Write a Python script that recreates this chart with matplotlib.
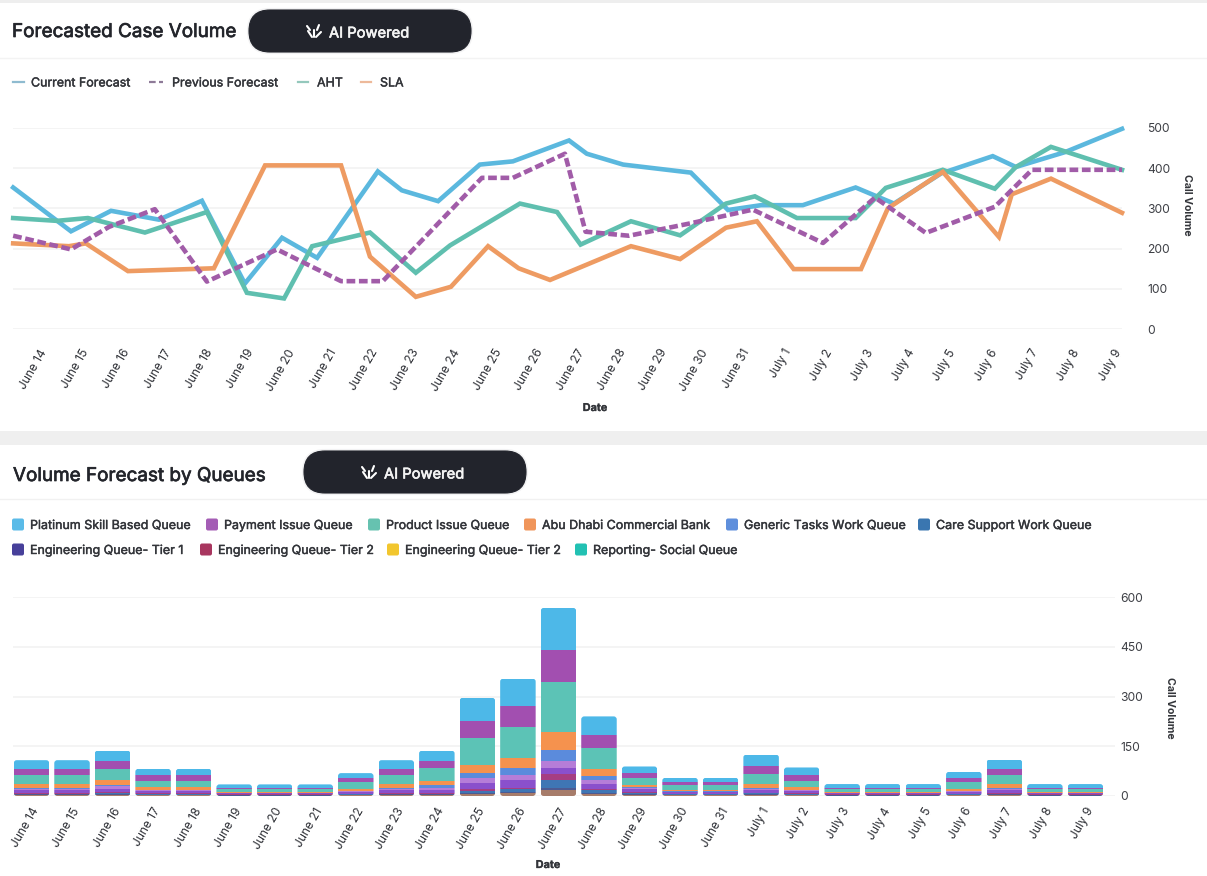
import matplotlib
matplotlib.use("Agg")
import matplotlib.pyplot as plt
import matplotlib.patheffects as path_effects
from matplotlib.patches import FancyBboxPatch, Rectangle

plt.rcParams['font.family'] = ['Inter', 'DejaVu Sans']

W, H = 1207, 876

dates = ["June 14", "June 15", "June 16", "June 17", "June 18", "June 19", "June 20", "June 21",
         "June 22", "June 23", "June 24", "June 25", "June 26", "June 27", "June 28", "June 29",
         "June 30", "June 31", "July 1", "July 2", "July 3", "July 4", "July 5", "July 6",
         "July 7", "July 8", "July 9"]

# top chart, the vertices do not sit on the dates so each line keeps its own day positions
current_days = [-0.48, 0.92, 1.89, 3.05, 4.09, 5.13, 6.03, 6.88, 8.35, 8.93, 9.81, 10.82, 11.62, 12.98,
                13.41, 14.29, 15.93, 16.83, 17.63, 18.64, 19.92, 20.85, 21.99, 23.24, 23.80, 24.99, 26.37]
current_vals = [352, 243, 294, 272, 319, 113, 227, 177, 392, 345, 318, 409, 417, 469,
                436, 409, 389, 296, 308, 308, 352, 312, 387, 430, 403, 440, 498]

previous_days = [-0.48, 0.92, 1.84, 2.95, 4.21, 5.91, 7.46, 8.47, 10.87, 11.62, 12.88, 13.38, 14.43,
                 15.88, 17.43, 19.13, 20.39, 21.62, 23.29, 24.19, 26.37]
previous_vals = [232, 198, 254, 298, 118, 198, 119, 119, 376, 376, 436, 242, 232,
                 262, 297, 214, 327, 239, 304, 396, 396]

aht_days = [-0.48, 0.58, 1.33, 2.71, 4.21, 5.18, 6.08, 6.76, 8.16, 9.27, 10.10, 11.79, 12.69, 13.26,
            14.48, 15.67, 16.78, 17.48, 18.50, 19.92, 20.65, 22.03, 23.29, 23.80, 24.65, 26.37]
aht_vals = [276, 269, 276, 240, 291, 90, 76, 206, 240, 140, 208, 312, 291, 210,
            268, 233, 312, 330, 276, 276, 351, 396, 349, 403, 453, 396]

sla_days = [-0.48, 0.87, 1.28, 2.30, 4.38, 5.62, 7.46, 8.16, 9.27, 10.12, 11.02, 11.76, 12.52,
            14.48, 15.67, 16.78, 17.53, 18.42, 20.05, 20.70, 22.03, 23.39, 23.70, 24.65, 26.37]
sla_vals = [213, 206, 213, 144, 151, 407, 407, 180, 80, 105, 206, 151, 122,
            206, 174, 252, 268, 149, 149, 300, 391, 229, 335, 374, 289]

# bottom chart, one list per stacked band, bottom band first
band_mix = [2, 2, 3, 2, 2, 1, 1, 1, 2, 2, 3, 6, 8, 19, 5, 2, 2, 2, 3, 2, 1, 1, 1, 2, 2, 1, 1]
band_eng1 = [3, 3, 3, 2, 2, 1, 1, 1, 2, 3, 2, 4, 5, 6, 5, 4, 2, 2, 2, 2, 1, 1, 1, 2, 3, 1, 1]
band_care = [2, 2, 3, 3, 3, 1, 1, 1, 2, 2, 2, 6, 8, 22, 7, 4, 2, 2, 3, 3, 1, 1, 1, 2, 2, 1, 1]
band_eng2 = [2, 2, 2, 1, 1, 2, 2, 2, 1, 2, 2, 4, 4, 18, 3, 2, 1, 1, 2, 1, 2, 2, 2, 1, 2, 2, 2]
band_violet = [8, 8, 10, 6, 6, 3, 3, 3, 5, 8, 8, 19, 23, 20, 15, 8, 4, 4, 7, 6, 3, 3, 3, 5, 8, 3, 3]
band_light = [4, 4, 8, 3, 3, 1, 1, 1, 2, 4, 8, 14, 15, 22, 12, 3, 2, 2, 5, 3, 1, 1, 1, 2, 4, 1, 1]
band_generic = [3, 3, 3, 2, 2, 1, 1, 1, 2, 3, 7, 15, 22, 33, 13, 3, 1, 1, 3, 2, 1, 1, 1, 2, 3, 1, 1]
band_abu = [12, 12, 17, 9, 9, 1, 1, 1, 5, 12, 13, 26, 31, 52, 22, 7, 4, 4, 10, 7, 1, 1, 1, 5, 12, 1, 1]
band_product = [28, 28, 33, 18, 18, 10, 10, 10, 20, 28, 38, 80, 92, 152, 63, 20, 14, 14, 30, 20, 10, 10, 10, 20, 28, 10, 10]
band_payment = [18, 18, 25, 16, 16, 3, 3, 3, 12, 18, 22, 52, 62, 95, 40, 16, 10, 10, 24, 16, 3, 3, 3, 12, 18, 3, 3]
band_platinum = [26, 26, 30, 20, 20, 11, 11, 11, 16, 26, 32, 70, 84, 128, 55, 20, 13, 13, 36, 24, 12, 12, 12, 20, 28, 12, 12]

bands = [band_mix, band_eng1, band_care, band_eng2, band_violet, band_light,
         band_generic, band_abu, band_product, band_payment, band_platinum]
band_colors = ["#A77C6A", "#4D5A92", "#3F76B4", "#A63E82", "#8A50CC", "#B67DD8",
               "#5B8BDC", "#F5924E", "#5CC3B6", "#A24FB0", "#4DB8E8"]

queue_names = ["Platinum Skill Based Queue", "Payment Issue Queue", "Product Issue Queue",
               "Abu Dhabi Commercial Bank", "Generic Tasks Work Queue", "Care Support Work Queue",
               "Engineering Queue- Tier 1", "Engineering Queue- Tier 2", "Engineering Queue- Tier 2",
               "Reporting- Social Queue"]
queue_colors = ["#5ABBE8", "#A45DB5", "#66C2B0", "#F0955A", "#5F8FDC", "#3A76B0",
                "#47409A", "#A8365F", "#F2C62E", "#22C1B3"]

fig = plt.figure(figsize=(W / 100, H / 100), dpi=100, facecolor="white")


def px_axes(left, top, right, bottom):
    return fig.add_axes([left / W, 1 - bottom / H, (right - left) / W, (bottom - top) / H])


def thicken(txt, col, lw=0.35):
    # Inter only comes in one weight here, so fatten the glyphs a little
    txt.set_path_effects([path_effects.Stroke(linewidth=lw, foreground=col), path_effects.Normal()])
    return txt


# page furniture
bg = fig.add_axes([0, 0, 1, 1])
bg.set_xlim(0, W)
bg.set_ylim(H, 0)
bg.axis("off")
bg.add_patch(Rectangle((0, 0), W, 3, color="#EEEEEE", lw=0))
bg.add_patch(Rectangle((0, 431), W, 14, color="#EFEFEF", lw=0))
bg.plot([0, W], [58, 58], color="#F3F3F3", lw=1)
bg.plot([0, W], [499, 499], color="#F1F1F1", lw=1)

TXT = "#23252B"


def pill(x, y):
    bg.add_patch(FancyBboxPatch((x + 21, y + 21), 222 - 42, 0, boxstyle="round,pad=21,rounding_size=21",
                                fc="#F2F2F3", ec="#F2F2F3", lw=3))
    bg.add_patch(FancyBboxPatch((x + 21, y + 21), 222 - 42, 0, boxstyle="round,pad=21,rounding_size=21",
                                fc="#22242C", ec="#22242C", lw=0.8))
    # little splash logo
    cx, cy = x + 65, y + 21
    for dx0, dy0, dx1, dy1 in [(0, 6, 0, -1), (-2, 6, -6, 0), (2, 6, 7, 1), (-4, -1, -7, -5), (3, -1, 5, -6)]:
        bg.plot([cx + dx0, cx + dx1], [cy + dy0, cy + dy1], color="white", lw=1.5, solid_capstyle="round")
    thicken(bg.text(x + 120, y + 22, "AI Powered", color="#F4F4F4", fontsize=10.6,
                    ha="center", va="center_baseline"), "#F4F4F4", 0.45)


pill(249, 10)
pill(304, 451)
thicken(bg.text(12, 30, "Forecasted Case Volume", color=TXT, fontsize=13.6, va="center_baseline"), TXT, 0.5)
thicken(bg.text(13, 474, "Volume Forecast by Queues", color=TXT, fontsize=13.6, va="center_baseline"), TXT, 0.5)

# legend of the line chart
line_legend = [("Current Forecast", "#8FBBD0", "-", 13, 24, 31),
               ("Previous Forecast", "#8E7A98", "--", 149, 163, 172),
               ("AHT", "#94C8BC", "-", 298, 308, 317),
               ("SLA", "#EDB99A", "-", 361, 371, 380)]
for name, col, ls, x0, x1, xt in line_legend:
    bg.plot([x0, x1], [82, 82], color=col, lw=1.6, ls=ls, dashes=(3, 1.5) if ls == "--" else (None, None))
    thicken(bg.text(xt, 82, name, color="#33353A", fontsize=8.95, va="center_baseline"), "#33353A", 0.3)

# legend of the bar chart
legend_slots = [(12, 524.5), (206, 524.5), (368, 524.5), (524, 524.5), (726, 524.5), (918, 524.5),
                (12, 549.5), (200, 549.5), (387, 549.5), (575, 549.5)]
for name, col, (x, y) in zip(queue_names, queue_colors, legend_slots):
    bg.add_patch(FancyBboxPatch((x + 1.5, y - 4.5), 9, 9, boxstyle="round,pad=1.5,rounding_size=2", fc=col, ec="none"))
    thicken(bg.text(x + 18, y, name, color="#33353A", fontsize=8.98, va="center_baseline"), "#33353A", 0.3)

# line chart
ax1 = px_axes(13, 128, 1122, 329)
ax1.patch.set_alpha(0)
ax1.plot(current_days, current_vals, color="#5BB8DE", lw=3.3, solid_joinstyle="miter", clip_on=False, zorder=3)
ax1.plot(aht_days, aht_vals, color="#5FBFAF", lw=3.3, solid_joinstyle="miter", clip_on=False, zorder=4)
ax1.plot(sla_days, sla_vals, color="#EE9B62", lw=3.3, solid_joinstyle="miter", clip_on=False, zorder=5)
ax1.plot(previous_days, previous_vals, color="#A15CA8", lw=3.3, ls=(0, (1.9, 0.8)), clip_on=False, zorder=6)
ax1.set_xlim(-0.484, 26.37)
ax1.set_ylim(0, 500)
ax1.set_yticks([0, 100, 200, 300, 400, 500])

# bar chart
ax2 = px_axes(13, 597, 1115, 796)
ax2.patch.set_alpha(0)
base = [0] * len(dates)
tops = [sum(b[i] for b in bands) for i in range(len(dates))]
bar_w = 35.5 / 40.54
clips = []
for i in range(len(dates)):
    box = FancyBboxPatch((i - bar_w / 2, 0), bar_w, tops[i], boxstyle="round,pad=0,rounding_size=0.075",
                         mutation_aspect=120, transform=ax2.transData, fc="none", ec="none")
    ax2.add_patch(box)
    clips.append(box)
for vals, col in zip(bands, band_colors):
    rects = ax2.bar(range(len(dates)), vals, bottom=base, width=bar_w, color=col, lw=0, zorder=3)
    for r, c in zip(rects, clips):
        r.set_clip_path(c)
    base = [a + b for a, b in zip(base, vals)]
ax2.set_xlim(-0.456, 26.73)
ax2.set_ylim(0, 600)
ax2.set_yticks([0, 150, 300, 450, 600])

for ax, date_x, vol_x, y_date, y_vol, shift in [(ax1, 595, 1187, 408, 205, 0.16), (ax2, 548, 1170, 865, 708, 0)]:
    for s in ax.spines.values():
        s.set_visible(False)
    ax.grid(axis="y", color="#F1F1F1", lw=1.1, zorder=0)
    ax.set_axisbelow(True)
    ax.yaxis.tick_right()
    ax.tick_params(axis="y", length=0, pad=26, labelsize=8.7, labelcolor="#3E4046")
    ax.set_xticks([i + shift for i in range(len(dates))])
    ax.set_xticklabels(dates, rotation=60, ha="right", rotation_mode="anchor", fontsize=8.6, color="#2E3036")
    ax.tick_params(axis="x", length=0, pad=13)
    thicken(bg.text(date_x, y_date, "Date", fontsize=7.8, fontweight="bold", color="#33353A",
                    ha="center", va="center"), "#33353A", 0.2)
    bg.text(vol_x, y_vol, "Call Volume", fontsize=7.6, fontweight="bold", color="#33353A", rotation=-90,
            ha="center", va="center")
ax1.tick_params(axis="y", pad=18)
ax2.tick_params(axis="y", pad=4)
ax2.tick_params(axis="x", pad=7)

fig.savefig("out.png", dpi=100, facecolor="white")
